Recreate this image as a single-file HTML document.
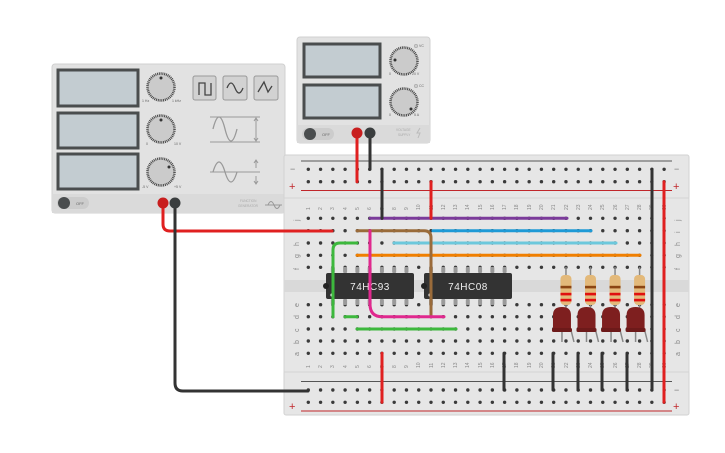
<!DOCTYPE html>
<html><head><meta charset="utf-8"><style>
html,body{margin:0;padding:0;background:#fff;width:725px;height:453px;overflow:hidden}
svg{display:block}
text{font-family:"Liberation Sans",sans-serif}
</style></head><body>
<svg id="s" width="725" height="453" viewBox="0 0 725 453" xmlns="http://www.w3.org/2000/svg">
<!-- Function generator -->
<rect x="52" y="64" width="233" height="149" rx="3" fill="#e2e2e2" stroke="#d0d0d0"/>
<rect x="52" y="194" width="233" height="19" fill="#dadada"/>
<rect x="58" y="70" width="80" height="36" fill="#c3ccd1" stroke="#4a4d4e" stroke-width="3"/>
<rect x="58" y="113" width="80" height="35" fill="#c3ccd1" stroke="#4a4d4e" stroke-width="3"/>
<rect x="58" y="154" width="80" height="35" fill="#c3ccd1" stroke="#4a4d4e" stroke-width="3"/>
<g fill="#cbcbcb" stroke="#4a4a4a" stroke-width="2.5" stroke-dasharray="1 0.8">
<circle cx="161" cy="87" r="13.5"/><circle cx="161" cy="129" r="13.5"/><circle cx="161" cy="172" r="13.5"/></g>
<circle cx="161" cy="78" r="1.5" fill="#333"/><circle cx="161" cy="120" r="1.5" fill="#333"/><circle cx="169" cy="167" r="1.5" fill="#333"/>
<g font-size="3.5" fill="#666"><text x="142" y="102">1 Hz</text><text x="172" y="102">1 kHz</text><text x="146" y="145">0</text><text x="174" y="145">10 V</text><text x="142" y="188">-5 V</text><text x="174" y="188">+5 V</text></g>
<g fill="#d2d2d2" stroke="#999"><rect x="193" y="76" width="23" height="24" rx="2"/><rect x="223" y="76" width="24" height="24" rx="2"/><rect x="254" y="76" width="24" height="24" rx="2"/></g>
<g fill="none" stroke="#444" stroke-width="1.3">
<path d="M199 95V83h6v12h6V83"/><path d="M227 88q4-10 8 0t8 0"/><path d="M258 92l6-10l4 10l4-6"/></g>
<g fill="none" stroke="#999" stroke-width="1">
<path d="M210 117H260M210 142H260"/><path d="M213 129q6-24 12 0t12 0" stroke-width="1.3"/>
<path d="M256 119V140M254 121l2-3l2 3M254 138l2 3l2-3"/>
<path d="M210 172H260"/><path d="M213 172q6-20 12 0t12 0" stroke-width="1.3"/>
<path d="M256 160V168M256 176V184M254 163l2-3l2 3M254 181l2 3l2-3"/>
<path d="M265 205H282"/><path d="M268 205q3-7 6 0t6 0"/></g>
<g font-size="3.2" fill="#aaa"><text x="240" y="202">FUNCTION</text><text x="238" y="207">GENERATOR</text></g>
<rect x="57" y="197" width="32" height="12" rx="6" fill="#ccc"/><circle cx="64" cy="203" r="6" fill="#4a4d4e"/><text x="76" y="205" font-size="4" fill="#666">OFF</text>
<!-- Voltage supply -->
<rect x="297" y="37" width="133" height="106" rx="3" fill="#e2e2e2" stroke="#d0d0d0"/>
<rect x="297" y="125" width="133" height="18" fill="#dadada"/>
<rect x="304" y="44" width="76" height="33" fill="#c3ccd1" stroke="#4a4d4e" stroke-width="3"/>
<rect x="304" y="85" width="76" height="33" fill="#c3ccd1" stroke="#4a4d4e" stroke-width="3"/>
<g fill="#cbcbcb" stroke="#4a4a4a" stroke-width="2.5" stroke-dasharray="1 0.8"><circle cx="404" cy="61" r="13.5"/><circle cx="404" cy="102" r="13.5"/></g>
<circle cx="395" cy="60" r="1.5" fill="#333"/><circle cx="411" cy="109" r="1.5" fill="#333"/>
<g font-size="3.5" fill="#666"><text x="389" y="75">0</text><text x="412" y="75">20 V</text><text x="389" y="116">0</text><text x="414" y="116">5 A</text><text x="419" y="47">VC</text><text x="419" y="87">CC</text></g>
<circle cx="416" cy="46" r="1.8" fill="#ccc" stroke="#999" stroke-width=".5"/><circle cx="416" cy="86" r="1.8" fill="#ccc" stroke="#999" stroke-width=".5"/>
<g font-size="3.2" fill="#aaa"><text x="396" y="131">VOLTAGE</text><text x="398" y="136">SUPPLY</text></g>
<path d="M420 128l-3 5h3l-2 5" stroke="#bbb" fill="none"/>
<rect x="302" y="128" width="32" height="12" rx="6" fill="#ccc"/><circle cx="310" cy="134" r="6" fill="#4a4d4e"/><text x="322" y="136" font-size="4" fill="#666">OFF</text>
<!-- Breadboard -->
<rect x="284" y="155" width="405" height="260" rx="2" fill="#e6e6e6" stroke="#d2d2d2"/>
<rect x="284" y="198" width="405" height="174" fill="#e6e6e6" stroke="#d4d4d4"/>
<rect x="284" y="280" width="405" height="12" fill="#d9d9d9"/>
<line x1="301" y1="161" x2="672" y2="161" stroke="#555" stroke-width="1"/>
<line x1="301" y1="190.5" x2="672" y2="190.5" stroke="#c0262a" stroke-width="1"/>
<line x1="301" y1="381.5" x2="672" y2="381.5" stroke="#555" stroke-width="1"/>
<line x1="301" y1="411" x2="672" y2="411" stroke="#c0262a" stroke-width="1"/>
<g font-size="9" fill="#777"><text x="290" y="172">−</text><text x="674" y="172">−</text><text x="290" y="393">−</text><text x="674" y="393">−</text></g>
<g font-size="11" fill="#c0262a"><text x="289" y="190">+</text><text x="673" y="190">+</text><text x="289" y="410">+</text><text x="673" y="410">+</text></g>
<g id="holes" fill="#3a3a3a"></g>
<g font-size="7" fill="#888" id="lbl">
<text transform="translate(299,221) rotate(-90)">j</text><text transform="translate(299,233) rotate(-90)">i</text><text transform="translate(299,246) rotate(-90)">h</text><text transform="translate(299,258) rotate(-90)">g</text><text transform="translate(299,270) rotate(-90)">f</text>
<text transform="translate(299,307) rotate(-90)">e</text><text transform="translate(299,319) rotate(-90)">d</text><text transform="translate(299,332) rotate(-90)">c</text><text transform="translate(299,344) rotate(-90)">b</text><text transform="translate(299,356) rotate(-90)">a</text>
<text transform="translate(680,221) rotate(-90)">j</text><text transform="translate(680,233) rotate(-90)">i</text><text transform="translate(680,246) rotate(-90)">h</text><text transform="translate(680,258) rotate(-90)">g</text><text transform="translate(680,270) rotate(-90)">f</text>
<text transform="translate(680,307) rotate(-90)">e</text><text transform="translate(680,319) rotate(-90)">d</text><text transform="translate(680,332) rotate(-90)">c</text><text transform="translate(680,344) rotate(-90)">b</text><text transform="translate(680,356) rotate(-90)">a</text>
</g>
<g font-size="5" fill="#888" id="nums">
<text transform="translate(310,210) rotate(-90)">1</text><text transform="translate(322,210) rotate(-90)">2</text><text transform="translate(334,210) rotate(-90)">3</text><text transform="translate(347,210) rotate(-90)">4</text><text transform="translate(359,210) rotate(-90)">5</text><text transform="translate(371,210) rotate(-90)">6</text><text transform="translate(384,210) rotate(-90)">7</text><text transform="translate(396,210) rotate(-90)">8</text><text transform="translate(408,210) rotate(-90)">9</text><text transform="translate(420,210) rotate(-90)">10</text><text transform="translate(433,210) rotate(-90)">11</text><text transform="translate(445,210) rotate(-90)">12</text><text transform="translate(457,210) rotate(-90)">13</text><text transform="translate(469,210) rotate(-90)">14</text><text transform="translate(482,210) rotate(-90)">15</text><text transform="translate(494,210) rotate(-90)">16</text><text transform="translate(506,210) rotate(-90)">17</text><text transform="translate(518,210) rotate(-90)">18</text><text transform="translate(531,210) rotate(-90)">19</text><text transform="translate(543,210) rotate(-90)">20</text><text transform="translate(555,210) rotate(-90)">21</text><text transform="translate(568,210) rotate(-90)">22</text><text transform="translate(580,210) rotate(-90)">23</text><text transform="translate(592,210) rotate(-90)">24</text><text transform="translate(604,210) rotate(-90)">25</text><text transform="translate(617,210) rotate(-90)">26</text><text transform="translate(629,210) rotate(-90)">27</text><text transform="translate(641,210) rotate(-90)">28</text><text transform="translate(653,210) rotate(-90)">29</text><text transform="translate(666,210) rotate(-90)">30</text>
<text transform="translate(310,368) rotate(-90)">1</text><text transform="translate(322,368) rotate(-90)">2</text><text transform="translate(334,368) rotate(-90)">3</text><text transform="translate(347,368) rotate(-90)">4</text><text transform="translate(359,368) rotate(-90)">5</text><text transform="translate(371,368) rotate(-90)">6</text><text transform="translate(384,368) rotate(-90)">7</text><text transform="translate(396,368) rotate(-90)">8</text><text transform="translate(408,368) rotate(-90)">9</text><text transform="translate(420,368) rotate(-90)">10</text><text transform="translate(433,368) rotate(-90)">11</text><text transform="translate(445,368) rotate(-90)">12</text><text transform="translate(457,368) rotate(-90)">13</text><text transform="translate(469,368) rotate(-90)">14</text><text transform="translate(482,368) rotate(-90)">15</text><text transform="translate(494,368) rotate(-90)">16</text><text transform="translate(506,368) rotate(-90)">17</text><text transform="translate(518,368) rotate(-90)">18</text><text transform="translate(531,368) rotate(-90)">19</text><text transform="translate(543,368) rotate(-90)">20</text><text transform="translate(555,368) rotate(-90)">21</text><text transform="translate(568,368) rotate(-90)">22</text><text transform="translate(580,368) rotate(-90)">23</text><text transform="translate(592,368) rotate(-90)">24</text><text transform="translate(604,368) rotate(-90)">25</text><text transform="translate(617,368) rotate(-90)">26</text><text transform="translate(629,368) rotate(-90)">27</text><text transform="translate(641,368) rotate(-90)">28</text><text transform="translate(653,368) rotate(-90)">29</text><text transform="translate(666,368) rotate(-90)">30</text>
</g>
<!-- chips -->
<g id="pins" fill="#9a9a9a"></g>
<rect x="326" y="273" width="88" height="26" rx="2" fill="#333"/>
<rect x="424" y="273" width="88" height="26" rx="2" fill="#333"/>
<circle cx="326" cy="286" r="3" fill="#222"/><circle cx="424" cy="286" r="3" fill="#222"/>
<circle cx="332" cy="295" r="1.6" fill="#eee"/><circle cx="430" cy="295" r="1.6" fill="#eee"/>
<text x="370" y="290" font-family="Liberation Mono,monospace" font-size="10" fill="#eee" text-anchor="middle" letter-spacing="0.5">74HC93</text>
<text x="468" y="290" font-family="Liberation Mono,monospace" font-size="10" fill="#eee" text-anchor="middle" letter-spacing="0.5">74HC08</text>
<!-- wires -->
<g fill="none" stroke-width="3" stroke-linecap="round">
<path d="M370 218.3H567" stroke="#7b3b9a"/>
<path d="M433 230.7H591" stroke="#1e9ad6"/>
<path d="M394 243H616" stroke="#6cc8dc"/>
<path d="M357 255.3H640" stroke="#f07f00"/>
<path d="M357 230.7H424q7 0 7 7V316.7" stroke="#9a6b3a"/>
<path d="M370 230.7V304q0 12.7 12 12.7H444" stroke="#e0288e"/>
<path d="M357 243H340q-7 0-7 7V316.7" stroke="#3db83d"/>
<path d="M345 316.7H357" stroke="#3db83d"/>
<path d="M357 329H456" stroke="#3db83d"/>
<path d="M382 169.3V218.3" stroke="#333"/>
<path d="M431 181.7V218.3" stroke="#e02020"/>
<path d="M382 353.3V402.3" stroke="#e02020"/>
<path d="M504 353.3V390M553 353.3V390M578 353.3V390M602 353.3V390M627 353.3V390" stroke="#333"/>
<path d="M652 169.3V390" stroke="#333"/>
<path d="M664 181.7V402.3" stroke="#e02020"/>
<path d="M357 133V181.7" stroke="#e02020"/>
<path d="M370 133V169.3" stroke="#333"/>
<path d="M163 203V224q0 7 7 7H332" stroke="#e02020"/>
<path d="M175 203V383q0 8 8 8H308" stroke="#333"/>
</g>
<circle cx="357" cy="133" r="5.5" fill="#c81e1e"/><circle cx="370" cy="133" r="5.5" fill="#3a3d3e"/>
<circle cx="163" cy="203" r="5.5" fill="#c81e1e"/><circle cx="175" cy="203" r="5.5" fill="#3a3d3e"/>
<!-- resistors & LEDs -->
<g id="rl"></g>
</svg>
<script>
var NS="http://www.w3.org/2000/svg";
function el(p,t,a){var e=document.createElementNS(NS,t);for(var k in a)e.setAttribute(k,a[k]);p.appendChild(e);return e}
var H=document.getElementById("holes"),P=document.getElementById("pins"),R=document.getElementById("rl");
function cx(c){return 308.3+(c-1)*12.27}
var rows=[218.3,230.7,243,255.3,267.3,304.7,316.7,329,341,353.3],rails=[169.3,181.7,390,402.3];
for(var c=1;c<=30;c++){rows.concat(rails).forEach(function(y){el(H,"circle",{cx:cx(c),cy:y,r:1.7});});}
for(var c=3;c<=17;c++){if(c==10)continue;var x=cx(c);el(P,"rect",{x:x-2,y:267,width:4,height:6,rx:1});el(P,"rect",{x:x-2,y:299,width:4,height:6,rx:1});}
[22,24,26,28].forEach(function(c){var x=cx(c);
el(R,"line",{x1:x,y1:267,x2:x,y2:310,stroke:"#888","stroke-width":1.5});
el(R,"rect",{x:x-5.5,y:275,width:11,height:30,rx:4,fill:"#e3b97a"});
[[287,"#8b4513"],[294,"#e01010"],[300,"#e01010"]].forEach(function(b){el(R,"rect",{x:x-5.5,y:b[0]-1.2,width:11,height:2.6,fill:b[1]});});
var lx=x-7;
el(R,"line",{x1:lx+3,y1:330,x2:lx+3,y2:342,stroke:"#888","stroke-width":1.5});
el(R,"line",{x1:lx+12,y1:330,x2:lx+15,y2:342,stroke:"#888","stroke-width":1.5});
el(R,"path",{d:"M"+(lx-6)+" 331V315q0-8 9-8t9 8V331z",fill:"#7e1f1f"});
el(R,"rect",{x:lx-7,y:328,width:20,height:4,rx:1.5,fill:"#6d1a1a"});
});
</script>
</body></html>
